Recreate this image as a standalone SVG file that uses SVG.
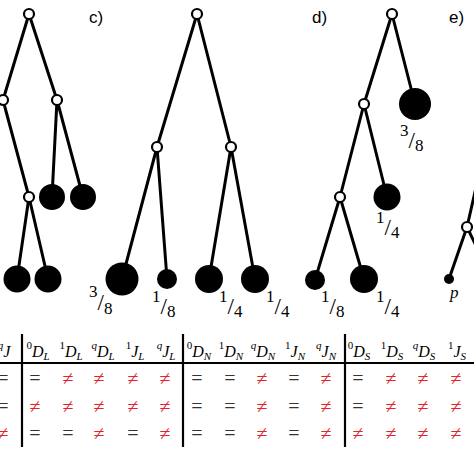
<svg xmlns="http://www.w3.org/2000/svg" width="474" height="474" viewBox="0 0 474 474">
<style>
.e{stroke:#000;stroke-width:3;fill:none;stroke-linecap:round}
.o{fill:#fff;stroke:#000;stroke-width:2.2}
.f{fill:#000}
.lab{font-family:"Liberation Sans",Arial,sans-serif;font-size:17px;fill:#000}
.fr{font-family:"Liberation Serif","DejaVu Serif",serif;font-size:17px;fill:#000}
.sl{font-size:23px}
.hd{font-family:"Liberation Serif","DejaVu Serif",serif;font-size:16px;fill:#000;text-anchor:middle}
.sm{font-size:11px}
.it{font-style:italic}
.eq{font-family:"Liberation Serif","DejaVu Serif",serif;font-size:20px;fill:#333;text-anchor:middle}
.ne{font-family:"Liberation Serif","DejaVu Serif",serif;font-size:20px;fill:#e3232b;text-anchor:middle}
.tl{stroke:#000;stroke-width:2.2}
</style>
<rect width="474" height="474" fill="#fff"/>
<g id="connectors">
<line class="e" x1="29" y1="14" x2="3" y2="100"/>
<line class="e" x1="29" y1="14" x2="57" y2="100"/>
<line class="e" x1="3" y1="100" x2="29" y2="197"/>
<line class="e" x1="57" y1="100" x2="52" y2="197"/>
<line class="e" x1="57" y1="100" x2="83" y2="197"/>
<line class="e" x1="29" y1="197" x2="17" y2="279"/>
<line class="e" x1="29" y1="197" x2="48" y2="279"/>
<line class="e" x1="197" y1="14" x2="157" y2="147"/>
<line class="e" x1="197" y1="14" x2="231" y2="147"/>
<line class="e" x1="157" y1="147" x2="122" y2="279"/>
<line class="e" x1="157" y1="147" x2="167" y2="279"/>
<line class="e" x1="231" y1="147" x2="209" y2="279"/>
<line class="e" x1="231" y1="147" x2="255" y2="279"/>
<line class="e" x1="392" y1="14" x2="364" y2="104"/>
<line class="e" x1="392" y1="14" x2="415" y2="104"/>
<line class="e" x1="364" y1="104" x2="340" y2="197"/>
<line class="e" x1="364" y1="104" x2="387" y2="197"/>
<line class="e" x1="340" y1="197" x2="315" y2="280"/>
<line class="e" x1="340" y1="197" x2="364" y2="279"/>
<line class="e" x1="467" y1="227" x2="449" y2="279"/>
<line class="e" x1="467" y1="227" x2="477" y2="183"/>
<line class="e" x1="467" y1="227" x2="478" y2="250"/>
</g>
<g id="tree-b">
<circle class="o" cx="29" cy="14" r="5"/>
<circle class="o" cx="3" cy="100" r="5"/>
<circle class="o" cx="57" cy="100" r="5"/>
<circle class="o" cx="29" cy="197" r="5"/>
<circle class="f" cx="52" cy="197" r="13"/>
<circle class="f" cx="83" cy="197" r="13"/>
<circle class="f" cx="17" cy="279" r="13.5"/>
<circle class="f" cx="48" cy="279" r="13.5"/>
</g>
<g id="tree-c">
<text class="lab" x="89" y="23">c)</text>
<circle class="o" cx="197" cy="14" r="5"/>
<circle class="o" cx="157" cy="147" r="5"/>
<circle class="o" cx="231" cy="147" r="5"/>
<circle class="f" cx="122" cy="279" r="16.5"/>
<circle class="f" cx="167" cy="279" r="10"/>
<circle class="f" cx="209" cy="279" r="14"/>
<circle class="f" cx="255" cy="279" r="14"/>
<text class="fr" x="89" y="297">3<tspan class="sl" dy="13">/</tspan><tspan dy="4">8</tspan></text>
<text class="fr" x="152" y="302">1<tspan class="sl" dy="12">/</tspan><tspan dy="3">8</tspan></text>
<text class="fr" x="219" y="302">1<tspan class="sl" dy="12">/</tspan><tspan dy="3">4</tspan></text>
<text class="fr" x="266" y="302">1<tspan class="sl" dy="12">/</tspan><tspan dy="3">4</tspan></text>
</g>
<g id="tree-d">
<text class="lab" x="312" y="23">d)</text>
<circle class="o" cx="392" cy="14" r="5"/>
<circle class="o" cx="364" cy="104" r="5"/>
<circle class="f" cx="415" cy="104" r="16"/>
<circle class="o" cx="340" cy="197" r="5"/>
<circle class="f" cx="387" cy="197" r="13.5"/>
<circle class="f" cx="315" cy="280" r="10"/>
<circle class="f" cx="364" cy="279" r="14"/>
<text class="fr" x="400" y="136">3<tspan class="sl" dy="12">/</tspan><tspan dy="3">8</tspan></text>
<text class="fr" x="376" y="223">1<tspan class="sl" dy="12">/</tspan><tspan dy="3">4</tspan></text>
<text class="fr" x="321" y="302">1<tspan class="sl" dy="12">/</tspan><tspan dy="3">8</tspan></text>
<text class="fr" x="376" y="302">1<tspan class="sl" dy="12">/</tspan><tspan dy="3">4</tspan></text>
</g>
<g id="tree-e">
<text class="lab" x="449" y="23">e)</text>
<circle class="o" cx="467" cy="227" r="5"/>
<circle class="f" cx="449" cy="279" r="5"/>
<text class="fr it" x="450" y="298">p</text>
</g>
<g id="table">
<line class="tl" x1="0" y1="363" x2="474" y2="363"/>
<line class="tl" x1="22" y1="334" x2="22" y2="447"/>
<line class="tl" x1="183" y1="334" x2="183" y2="447"/>
<line class="tl" x1="345" y1="334" x2="345" y2="447"/>
<text class="hd" x="4" y="357"><tspan class="sm it" dy="-8">q</tspan><tspan class="it" dy="8">J</tspan></text>
<text class="hd" x="38" y="357"><tspan class="sm" dy="-8">0</tspan><tspan class="it" dy="8">D</tspan><tspan class="sm it" dy="3">L</tspan></text>
<text class="hd" x="71" y="357"><tspan class="sm" dy="-8">1</tspan><tspan class="it" dy="8">D</tspan><tspan class="sm it" dy="3">L</tspan></text>
<text class="hd" x="103" y="357"><tspan class="sm it" dy="-8">q</tspan><tspan class="it" dy="8">D</tspan><tspan class="sm it" dy="3">L</tspan></text>
<text class="hd" x="135" y="357"><tspan class="sm" dy="-8">1</tspan><tspan class="it" dy="8">J</tspan><tspan class="sm it" dy="3">L</tspan></text>
<text class="hd" x="166" y="357"><tspan class="sm it" dy="-8">q</tspan><tspan class="it" dy="8">J</tspan><tspan class="sm it" dy="3">L</tspan></text>
<text class="hd" x="199" y="357"><tspan class="sm" dy="-8">0</tspan><tspan class="it" dy="8">D</tspan><tspan class="sm it" dy="3">N</tspan></text>
<text class="hd" x="231" y="357"><tspan class="sm" dy="-8">1</tspan><tspan class="it" dy="8">D</tspan><tspan class="sm it" dy="3">N</tspan></text>
<text class="hd" x="263" y="357"><tspan class="sm it" dy="-8">q</tspan><tspan class="it" dy="8">D</tspan><tspan class="sm it" dy="3">N</tspan></text>
<text class="hd" x="295" y="357"><tspan class="sm" dy="-8">1</tspan><tspan class="it" dy="8">J</tspan><tspan class="sm it" dy="3">N</tspan></text>
<text class="hd" x="326" y="357"><tspan class="sm it" dy="-8">q</tspan><tspan class="it" dy="8">J</tspan><tspan class="sm it" dy="3">N</tspan></text>
<text class="hd" x="359" y="357"><tspan class="sm" dy="-8">0</tspan><tspan class="it" dy="8">D</tspan><tspan class="sm it" dy="3">S</tspan></text>
<text class="hd" x="392" y="357"><tspan class="sm" dy="-8">1</tspan><tspan class="it" dy="8">D</tspan><tspan class="sm it" dy="3">S</tspan></text>
<text class="hd" x="424" y="357"><tspan class="sm it" dy="-8">q</tspan><tspan class="it" dy="8">D</tspan><tspan class="sm it" dy="3">S</tspan></text>
<text class="hd" x="457" y="357"><tspan class="sm" dy="-8">1</tspan><tspan class="it" dy="8">J</tspan><tspan class="sm it" dy="3">S</tspan></text>
<text class="eq" x="3" y="385">=</text>
<text class="eq" x="35" y="385">=</text>
<text class="ne" x="68" y="385">≠</text>
<text class="ne" x="99" y="385">≠</text>
<text class="ne" x="133" y="385">≠</text>
<text class="ne" x="165" y="385">≠</text>
<text class="eq" x="197" y="385">=</text>
<text class="eq" x="230" y="385">=</text>
<text class="ne" x="262" y="385">≠</text>
<text class="eq" x="294" y="385">=</text>
<text class="ne" x="326" y="385">≠</text>
<text class="eq" x="358" y="385">=</text>
<text class="ne" x="391" y="385">≠</text>
<text class="ne" x="423" y="385">≠</text>
<text class="ne" x="456" y="385">≠</text>
<text class="eq" x="3" y="413">=</text>
<text class="ne" x="35" y="413">≠</text>
<text class="ne" x="68" y="413">≠</text>
<text class="ne" x="99" y="413">≠</text>
<text class="ne" x="133" y="413">≠</text>
<text class="ne" x="165" y="413">≠</text>
<text class="eq" x="197" y="413">=</text>
<text class="eq" x="230" y="413">=</text>
<text class="ne" x="262" y="413">≠</text>
<text class="eq" x="294" y="413">=</text>
<text class="ne" x="326" y="413">≠</text>
<text class="eq" x="358" y="413">=</text>
<text class="ne" x="391" y="413">≠</text>
<text class="ne" x="423" y="413">≠</text>
<text class="ne" x="456" y="413">≠</text>
<text class="ne" x="3" y="440">≠</text>
<text class="eq" x="35" y="440">=</text>
<text class="eq" x="68" y="440">=</text>
<text class="ne" x="99" y="440">≠</text>
<text class="eq" x="133" y="440">=</text>
<text class="ne" x="165" y="440">≠</text>
<text class="eq" x="197" y="440">=</text>
<text class="eq" x="230" y="440">=</text>
<text class="ne" x="262" y="440">≠</text>
<text class="eq" x="294" y="440">=</text>
<text class="ne" x="326" y="440">≠</text>
<text class="ne" x="358" y="440">≠</text>
<text class="ne" x="391" y="440">≠</text>
<text class="ne" x="423" y="440">≠</text>
<text class="ne" x="456" y="440">≠</text>
</g>
</svg>
